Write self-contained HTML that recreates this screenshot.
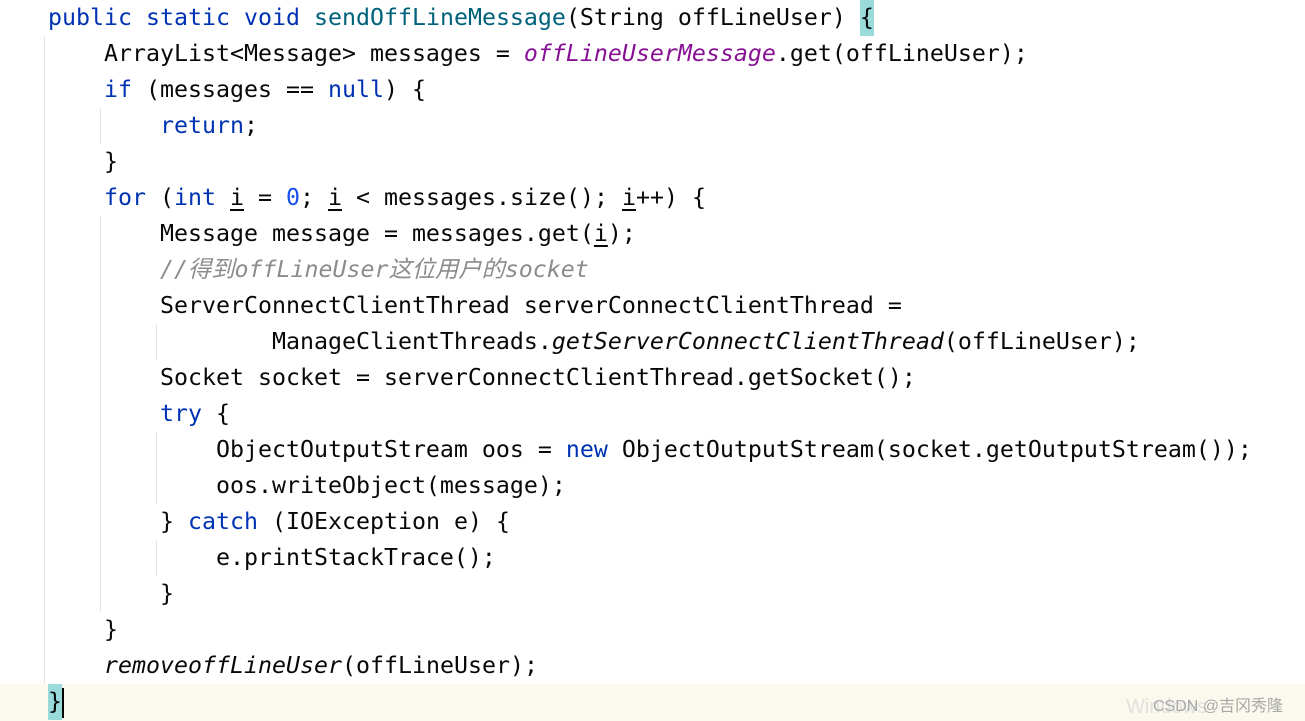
<!DOCTYPE html>
<html><head><meta charset="utf-8"><style>
html,body{margin:0;padding:0;background:#fff;width:1305px;height:721px;overflow:hidden;position:relative}
.l{position:absolute;left:48px;height:36px;line-height:36px;white-space:pre;font-family:"DejaVu Sans Mono","Noto Sans CJK SC",monospace;font-size:23.25px;color:#080808}
.k{color:#0033b3}.m{color:#00627a}.f{color:#871094;font-style:italic}.c{color:#8c8c8c;font-style:italic}.n{color:#1750eb}.i{font-style:italic}.u{text-decoration:underline;text-underline-offset:4px}
.g{position:absolute;width:1px;background:#e4e4e4}
.hl{position:absolute;left:0;top:684px;width:1305px;height:37px;background:#fbf9ed}
.br{background:#99dada;display:inline-block;height:36px}
</style></head><body>
<div class="hl"></div>
<div class="g" style="left:44px;top:36px;height:648px"></div>
<div class="g" style="left:100px;top:108px;height:36px"></div>
<div class="g" style="left:100px;top:216px;height:396px"></div>
<div class="g" style="left:156px;top:324px;height:36px"></div>
<div class="g" style="left:156px;top:432px;height:72px"></div>
<div class="g" style="left:156px;top:540px;height:36px"></div>
<div class="l" style="top:0"><span class="k">public static void </span><span class="m">sendOffLineMessage</span>(String offLineUser) <span class="br">{</span></div>
<div class="l" style="top:36px">    ArrayList&lt;Message&gt; messages = <span class="f">offLineUserMessage</span>.get(offLineUser);</div>
<div class="l" style="top:72px">    <span class="k">if</span> (messages == <span class="k">null</span>) {</div>
<div class="l" style="top:108px">        <span class="k">return</span>;</div>
<div class="l" style="top:144px">    }</div>
<div class="l" style="top:180px">    <span class="k">for</span> (<span class="k">int</span> <span class="u">i</span> = <span class="n">0</span>; <span class="u">i</span> &lt; messages.size(); <span class="u">i</span>++) {</div>
<div class="l" style="top:216px">        Message message = messages.get(<span class="u">i</span>);</div>
<div class="l" style="top:252px">        <span class="c">//得到offLineUser这位用户的socket</span></div>
<div class="l" style="top:288px">        ServerConnectClientThread serverConnectClientThread =</div>
<div class="l" style="top:324px">                ManageClientThreads.<span class="i">getServerConnectClientThread</span>(offLineUser);</div>
<div class="l" style="top:360px">        Socket socket = serverConnectClientThread.getSocket();</div>
<div class="l" style="top:396px">        <span class="k">try</span> {</div>
<div class="l" style="top:432px">            ObjectOutputStream oos = <span class="k">new</span> ObjectOutputStream(socket.getOutputStream());</div>
<div class="l" style="top:468px">            oos.writeObject(message);</div>
<div class="l" style="top:504px">        } <span class="k">catch</span> (IOException e) {</div>
<div class="l" style="top:540px">            e.printStackTrace();</div>
<div class="l" style="top:576px">        }</div>
<div class="l" style="top:612px">    }</div>
<div class="l" style="top:648px">    <span class="i">removeoffLineUser</span>(offLineUser);</div>
<div class="l" style="top:684px"><span class="br">}</span><span style="display:inline-block;width:2px;height:30px;background:#000;vertical-align:middle"></span></div>
<div style="position:absolute;left:1126px;top:696px;font-family:'Liberation Sans',sans-serif;font-size:20px;color:#e0e0e0">Windows</div>
<div style="position:absolute;left:1153px;top:692px;font-family:'Liberation Sans','Noto Sans CJK SC',sans-serif;font-size:16px;color:#a8a8a8">CSDN @吉冈秀隆</div>
</body></html>
